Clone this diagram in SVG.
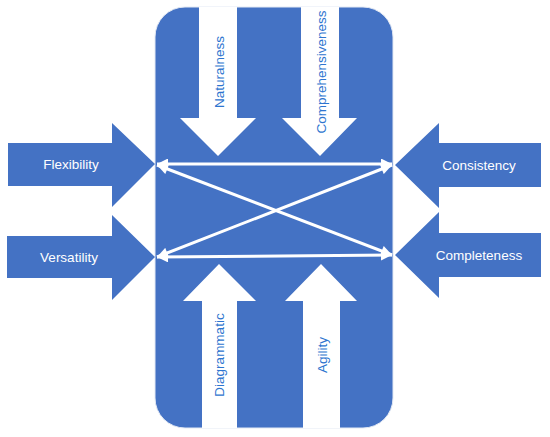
<svg xmlns="http://www.w3.org/2000/svg" width="550" height="437" viewBox="0 0 550 437">
<defs>
<style>
.blue{fill:#4472C4;}
.warrow{fill:#FFFFFF;}
.lbl{font-family:"Liberation Sans",Arial,sans-serif;font-size:13.5px;text-anchor:middle;dominant-baseline:central;}
.wl{fill:#FFFFFF;}
.bl{fill:#2E75CF;}
.conn{stroke:#FFFFFF;stroke-width:3;fill:none;marker-start:url(#ah);marker-end:url(#ah);}
</style>
<marker id="ah" viewBox="0 0 10 10" refX="10" refY="5" markerWidth="13" markerHeight="11" orient="auto-start-reverse" markerUnits="userSpaceOnUse">
<path d="M0,0 L10,5 L0,10 z" fill="#FFFFFF"/>
</marker>
</defs>
<rect width="550" height="437" fill="#FFFFFF"/>
<g id="core">
<rect x="155" y="7" width="238" height="421" rx="30" ry="30" class="blue" stroke="#E3E9F4" stroke-width="1"/>
</g>
<g id="naturalness">
<polygon class="warrow" points="199,7 237,7 237,118 256,118 218,156 180,118 199,118"/>
<text class="lbl bl" transform="translate(219,72) rotate(-90)">Naturalness</text>
</g>
<g id="comprehensiveness">
<polygon class="warrow" points="301,7 339,7 339,118 357,118 320,156 282,118 301,118"/>
<text class="lbl bl" transform="translate(321,72) rotate(-90)">Comprehensiveness</text>
</g>
<g id="diagrammatic">
<polygon class="warrow" points="202,428 202,301 183,301 219,264 256,301 237,301 237,428"/>
<text class="lbl bl" transform="translate(219,355) rotate(-90)">Diagrammatic</text>
</g>
<g id="agility">
<polygon class="warrow" points="303,428 303,301 285,301 321,264 357,301 340,301 340,428"/>
<text class="lbl bl" transform="translate(322,355) rotate(-90)">Agility</text>
</g>
<g id="flexibility">
<polygon class="blue" points="8,143 112,143 112,123 155,164 112,207 112,186 8,186"/>
<text class="lbl wl" x="71" y="164">Flexibility</text>
</g>
<g id="versatility">
<polygon class="blue" points="7,236 112,236 112,215 155,257 112,300 112,278 7,278"/>
<text class="lbl wl" x="69" y="257">Versatility</text>
</g>
<g id="consistency">
<polygon class="blue" points="541,143 439,143 439,123 395,165 439,208 439,187 541,187"/>
<text class="lbl wl" x="479" y="165">Consistency</text>
</g>
<g id="completeness">
<polygon class="blue" points="541,233 439,233 439,212 395,255 439,298 439,277 541,277"/>
<text class="lbl wl" x="479" y="255">Completeness</text>
</g>
<g id="connectors">
<line class="conn" x1="157" y1="164" x2="392" y2="164"/>
<line class="conn" x1="157" y1="257" x2="392" y2="255"/>
<line class="conn" x1="157" y1="165" x2="392" y2="255"/>
<line class="conn" x1="157" y1="257" x2="392" y2="165"/>
</g>
</svg>
